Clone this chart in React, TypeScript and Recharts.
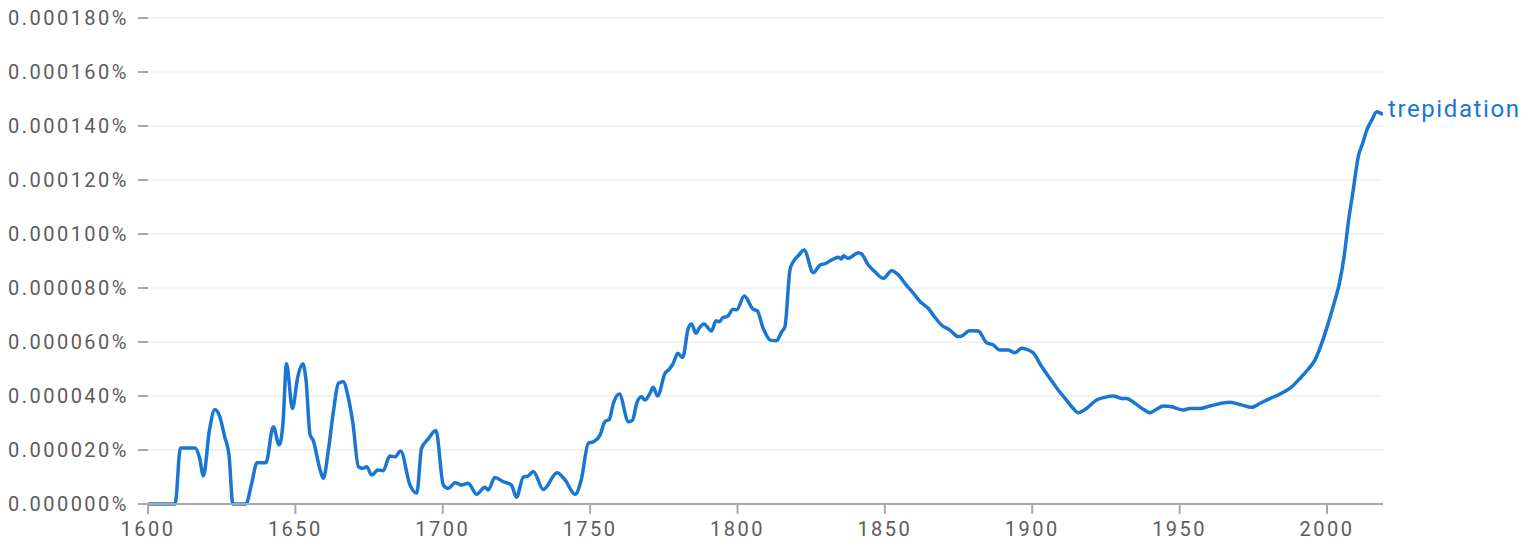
import React from 'react';
import { LineChart, Line, XAxis, YAxis, CartesianGrid } from 'recharts';

const SERIES_NAME = 'trepidation';

// years (x) and frequency values in units of 0.000001 %
const YEARS: number[] = [
  1600, 1605, 1609.2, 1611, 1613.5, 1616, 1617.5, 1618.8, 1620.8, 1622.7, 1624.3, 1626, 1627.5, 1628.8, 1633.2,
  1635.2, 1637, 1640, 1642.5, 1644.5, 1645.8, 1647, 1649, 1650.8, 1652.5, 1653.6, 1655, 1656, 1658.4, 1659.5,
  1661.2, 1663, 1664.6, 1666.2, 1668, 1669.5, 1671.4, 1673, 1674.2, 1675.9, 1678, 1679.8, 1682, 1683.8, 1685.7,
  1688.9, 1691.2, 1692.8, 1695, 1697.7, 1700.2, 1701.9, 1704.2, 1706.4, 1708.6, 1711.5, 1714.3, 1715.4, 1717.7,
  1720.5, 1723.3, 1725, 1727.3, 1729, 1730.7, 1734.1, 1738.8, 1741.5, 1744.9, 1747, 1749.4, 1751.1, 1753.4,
  1755, 1756.5, 1757.9, 1759.9, 1763, 1764.4, 1765.8, 1767.4, 1768.6, 1770.3, 1771.4, 1772.9, 1775.4, 1776.8,
  1778.2, 1779.7, 1781.4, 1783.3, 1784.4, 1785.9, 1787, 1788.6, 1791.2, 1792.7, 1793.8, 1795.1, 1796.5, 1798.5,
  1799.7, 1802.3, 1805.3, 1806.7, 1808.7, 1811.2, 1813.2, 1815, 1816.1, 1817.8, 1818.9, 1820.6, 1822.6, 1825.7,
  1828, 1829.7, 1832, 1834.2, 1835.3, 1835.9, 1837.6, 1838.7, 1841, 1842.1, 1844.4, 1846.6, 1849.5, 1852.3,
  1854.6, 1856.8, 1859.7, 1862, 1864.7, 1867, 1869.2, 1872.1, 1874.9, 1876, 1878.8, 1881.7, 1884.5, 1886.8,
  1889, 1891.9, 1894.1, 1896.4, 1898.1, 1900.3, 1903.2, 1906, 1908.8, 1911.6, 1913.9, 1915.6, 1918.4, 1921.8,
  1924.6, 1927.5, 1930.3, 1932, 1934.8, 1937.7, 1939.9, 1942.2, 1944.4, 1947.3, 1951.2, 1953.5, 1956.9, 1960.3,
  1964.2, 1967.1, 1971, 1974.4, 1977.3, 1980.7, 1984, 1988, 1990.8, 1993.6, 1995.9, 1998.2, 2000.4, 2002.4,
  2004.2, 2005.8, 2007.2, 2008.9, 2010.6, 2012.1, 2013.5, 2015.2, 2016.9, 2019,
];

const FREQ: number[] = [
  0, 0, 0, 20.7, 20.7, 20.7, 17, 10.4, 27, 35, 32.5, 25, 18, 0, 0,
  7.8, 15.3, 15.3, 28.6, 21.9, 30, 51.9, 35.4, 47, 51.9, 46, 25.6, 23.7, 12.6, 9.5,
  20, 35, 44.7, 45.3, 39.2, 30, 13.8, 13.2, 13.8, 10.7, 12.6, 12.3, 17.8, 17.5, 19.6,
  7, 4, 20.6, 24, 27.2, 7, 5.8, 7.9, 7, 7.7, 3.6, 6.2, 5.2, 9.8,
  8.3, 7, 2.5, 9.9, 10.4, 12, 5.4, 11.6, 8.9, 3.6, 9, 22.5, 23, 25.6,
  30.5, 31.4, 37.3, 40.7, 30.5, 31.1, 37.3, 39.7, 38.5, 41, 43.2, 40, 48.4, 49.9,
  52.1, 55.8, 54.3, 65.1, 66.7, 63.2, 65.1, 66.7, 64.1, 67.9, 67.5, 69.1, 69.4, 72.1,
  71.9, 77, 72.1, 71.6, 65.1, 60.7, 60.5, 63.8, 65.7, 86.7, 89.7, 91.9, 94.1, 85.7,
  88.5, 89, 90.4, 91.4, 90.7, 91.9, 91, 91.6, 93.1, 92.6, 88.5, 86, 83.6, 86.4,
  84.8, 81.7, 78, 74.9, 72.5, 69.1, 66.3, 64.4, 62, 62.2, 64.2, 64.1, 59.7, 58.9,
  57, 57, 56, 57.7, 57.3, 56, 50.9, 46.5, 42.2, 38.5, 35.4, 33.8, 35.4, 38.5,
  39.5, 40, 39.1, 39.1, 37.3, 35.1, 33.8, 35.1, 36.3, 36, 34.8, 35.4, 35.4, 36.3,
  37.3, 37.7, 36.7, 35.8, 37.3, 39.1, 40.7, 43.4, 46.5, 49.9, 53.3, 59.5, 66.9, 74.3,
  81.7, 91.6, 104, 116.3, 128.6, 133.6, 138.5, 142.2, 145.3, 144.2,
];

const X_TICKS = [1600, 1650, 1700, 1750, 1800, 1850, 1900, 1950, 2000];
const Y_TICKS = [0, 20, 40, 60, 80, 100, 120, 140, 160, 180];

const data = YEARS.map((year, i) => ({ year, value: FREQ[i] }));

const AXIS_TEXT = '#5c5c5c';
const LINE_COLOR = '#1976d2';
const FONT = 'Roboto, "Noto Sans", sans-serif';

const formatPct = (v: number) => (v / 1e6).toFixed(6) + '%';

const YTick = (props: any) => {
  const { x, y, payload } = props;
  return (
    <text
      x={x}
      y={y}
      dy="0.35em"
      textAnchor="end"
      fill={AXIS_TEXT}
      fontSize={20}
      fontFamily={FONT}
      letterSpacing={2.5}
    >
      {formatPct(payload.value)}
    </text>
  );
};

const XTick = (props: any) => {
  const { x, y, payload } = props;
  return (
    <text
      x={x}
      y={y}
      dy="0.71em"
      textAnchor="middle"
      fill={AXIS_TEXT}
      fontSize={20}
      fontFamily={FONT}
      letterSpacing={2.5}
    >
      {String(payload.value)}
    </text>
  );
};

const EndLabel = (props: any) => {
  const { x, y, index } = props;
  if (index !== data.length - 1) return null;
  return (
    <text
      x={x + 5}
      y={y + 2}
      fill={LINE_COLOR}
      fontSize={24}
      fontFamily={FONT}
      letterSpacing={1.6}
    >
      {SERIES_NAME}
    </text>
  );
};

export default function App() {
  return (
    <div style={{ width: 1520, height: 546, background: '#fff' }}>
      <LineChart
        width={1520}
        height={546}
        data={data}
        margin={{ top: 10, right: 145, bottom: 0, left: 0 }}
      >
        <CartesianGrid horizontal vertical={false} stroke="#eeeeee" strokeWidth={1.5} />
        <XAxis
          dataKey="year"
          type="number"
          domain={[1600, 2019]}
          ticks={X_TICKS}
          height={50}
          axisLine={{ stroke: '#a8a8a8', strokeWidth: 2 }}
          tickLine={{ stroke: '#a8a8a8', strokeWidth: 2 }}
          tickSize={10}
          tickMargin={8}
          tick={<XTick />}
          interval={0}
          allowDataOverflow
        />
        <YAxis
          type="number"
          domain={[0, 180]}
          ticks={Y_TICKS}
          width={140}
          axisLine={false}
          tickLine={{ stroke: '#a8a8a8', strokeWidth: 2 }}
          tickSize={10}
          tickMargin={9}
          tick={<YTick />}
          interval={0}
        />
        <Line
          type="monotone"
          dataKey="value"
          stroke={LINE_COLOR}
          strokeWidth={3.5}
          dot={false}
          activeDot={false}
          isAnimationActive={false}
          label={<EndLabel />}
        />
      </LineChart>
    </div>
  );
}
